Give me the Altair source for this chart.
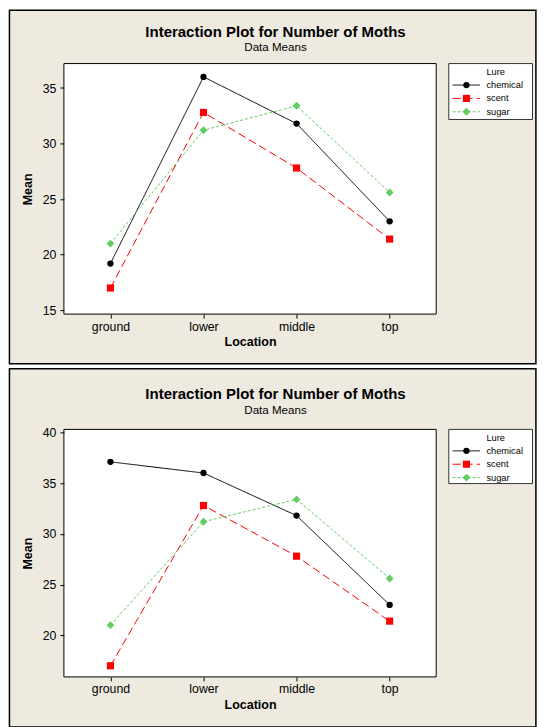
import altair as alt
import pandas as pd

# ---------------- data ----------------
LOCATIONS = ["ground", "lower", "middle", "top"]
LURES = ["chemical", "scent", "sugar"]
CHEMICAL_TOP_PANEL = [19.2, 36.0, 31.8, 23.0]
CHEMICAL_BOTTOM_PANEL = [37.1, 36.0, 31.8, 23.0]
SCENT = [17.0, 32.8, 27.8, 21.4]
SUGAR = [21.0, 31.2, 33.4, 25.6]
Y_TICKS_TOP = [15, 20, 25, 30, 35]
Y_TICKS_BOTTOM = [20, 25, 30, 35, 40]

TITLE = "Interaction Plot for Number of Moths"
SUBTITLE = "Data Means"
X_TITLE = "Location"
Y_TITLE = "Mean"
LEGEND_TITLE = "Lure"

# ---------------- styles ----------------
BEIGE = "#EEEAE0"
COLORS = ["#000000", "#FF0000", "#62CC62"]
SHAPES = ["circle", "square", "diamond"]
DASHES = [[1, 0], [8, 4], [3, 2]]
FONT = "Liberation Sans"
PLOT_W = 373


def make_df(chem):
    rows = []
    for lure, vals in zip(LURES, [chem, SCENT, SUGAR]):
        for loc, v in zip(LOCATIONS, vals):
            rows.append({"Location": loc, "Lure": lure, "Mean": v})
    return pd.DataFrame(rows)


one = pd.DataFrame({"k": [0]})
legend_df = pd.DataFrame({"Lure": LURES})


def panel(chem, domain, ticks, height, title_y, sub_y, bg_top, bg_bottom, box_h):
    df = make_df(chem)
    color = alt.Color("Lure:N", scale=alt.Scale(domain=LURES, range=COLORS), legend=None)
    shape = alt.Shape("Lure:N", scale=alt.Scale(domain=LURES, range=SHAPES), legend=None)
    dash = alt.StrokeDash("Lure:N", scale=alt.Scale(domain=LURES, range=DASHES), legend=None)
    size = alt.Size("Lure:N", scale=alt.Scale(domain=LURES, range=[40, 62]), legend=None)

    x = alt.X(
        "Location:N",
        sort=LOCATIONS,
        scale=alt.Scale(type="point", padding=0.5),
        axis=alt.Axis(
            title=X_TITLE, labelAngle=0, tickSize=4, domain=False, grid=False,
            labelFont=FONT, labelFontSize=12.3, labelColor="#000000", labelPadding=2,
            titleFont=FONT, titleFontSize=12.5, titleFontWeight="bold",
            titleColor="#000000", titlePadding=3, tickColor="#000000", zindex=1,
        ),
    )
    y = alt.Y(
        "Mean:Q",
        scale=alt.Scale(domain=domain, nice=False, zero=False),
        axis=alt.Axis(
            title=Y_TITLE, values=ticks, tickSize=4, domain=False, grid=False,
            labelFont=FONT, labelFontSize=12.3, labelColor="#000000", labelPadding=4,
            titleFont=FONT, titleFontSize=12.5, titleFontWeight="bold",
            titleColor="#000000", titlePadding=8, tickColor="#000000", zindex=1,
        ),
    )

    bg = alt.Chart(one).mark_rect(fill=BEIGE, stroke="#000000", strokeWidth=1.5).encode(
        x=alt.value(-54.55), x2=alt.value(472.9), y=alt.value(bg_top), y2=alt.value(bg_bottom)
    )
    plot_bg = alt.Chart(one).mark_rect(fill="#FFFFFF", stroke="#000000", strokeWidth=1).encode(
        x=alt.value(0), x2=alt.value(PLOT_W), y=alt.value(0), y2=alt.value(height)
    )
    lines = alt.Chart(df).mark_line(strokeWidth=1).encode(
        x=x, y=y, color=color, strokeDash=dash, detail="Lure:N"
    )
    points = alt.Chart(df).mark_point(filled=True, opacity=1).encode(
        x=x, y=y, color=color, shape=shape, size=size
    )
    data_layer = alt.layer(lines, points)

    title = alt.Chart(one).mark_text(
        text=TITLE, font=FONT, fontSize=15, fontWeight="bold", align="center",
        baseline="alphabetic", color="#000000"
    ).encode(x=alt.value(212), y=alt.value(title_y))
    subtitle = alt.Chart(one).mark_text(
        text=SUBTITLE, font=FONT, fontSize=11.6, align="center",
        baseline="alphabetic", color="#000000"
    ).encode(x=alt.value(212), y=alt.value(sub_y))

    # legend drawn from the category list
    ly = alt.Y("Lure:N", scale=alt.Scale(type="point", domain=LURES, range=[21.5, 48.3], padding=0), axis=None)
    box = alt.Chart(one).mark_rect(fill="#FFFFFF", stroke="#333333", strokeWidth=1).encode(
        x=alt.value(385.6), x2=alt.value(469.5), y=alt.value(0), y2=alt.value(box_h)
    )
    leg_lines = alt.Chart(legend_df).mark_rule(strokeWidth=1).encode(
        x=alt.value(389.5), x2=alt.value(416.8), y=ly, color=color, strokeDash=dash
    )
    leg_pts = alt.Chart(legend_df).mark_point(filled=True, opacity=1).encode(
        x=alt.value(403.3), y=ly, color=color, shape=shape, size=size
    )
    leg_txt = alt.Chart(legend_df).mark_text(
        font=FONT, fontSize=9.3, align="left", baseline="middle", color="#000000"
    ).encode(x=alt.value(423.3), y=ly, text="Lure:N")
    legend_layer = alt.layer(leg_lines, leg_pts, leg_txt)
    leg_title = alt.Chart(one).mark_text(
        text=LEGEND_TITLE, font=FONT, fontSize=9.3, align="left", baseline="middle", color="#000000"
    ).encode(x=alt.value(423.3), y=alt.value(8.6))

    return alt.layer(
        bg, plot_bg, data_layer, title, subtitle, box, legend_layer, leg_title
    ).resolve_scale(y="independent").properties(width=PLOT_W, height=height)


top = panel(CHEMICAL_TOP_PANEL, [14.65, 37.2], Y_TICKS_TOP, 251, -26.6, -12.3, -53.55, 300.7, 56)
bottom = panel(CHEMICAL_BOTTOM_PANEL, [15.9, 40.3], Y_TICKS_BOTTOM, 248, -30.4, -15, -60.7, 298.3, 54.3)

chart = alt.vconcat(top, bottom, spacing=2.5).properties(padding=0).configure_view(stroke=None)

chart.save("out.html", embed_options={"renderer": "svg", "actions": False})
